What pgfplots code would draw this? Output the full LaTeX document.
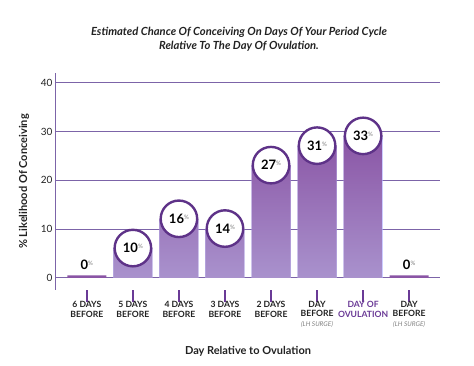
\documentclass[border=0pt]{standalone}
\usepackage{pgfplots}
\usepackage{pgfplotstable}
\pgfplotsset{compat=1.18}
\usepackage{fontspec}
\setmainfont{Lato}
\usetikzlibrary{shadows}
\definecolor{barTop}{HTML}{8A55A5}
\definecolor{barBot}{HTML}{A992CD}
\definecolor{gridc}{HTML}{7C64A8}
\definecolor{ring}{HTML}{5E3288}
\definecolor{ovu}{HTML}{6A3A96}
\definecolor{txt}{HTML}{222222}
\pgfplotstableread{
x y
1 10
2 16
3 14
4 27
5 31
6 33
}\bardata
\begin{document}
\begin{tikzpicture}
\begin{axis}[
  name=ax,
  scale only axis,
  width=384pt, height=217pt,
  xmin=-0.67, xmax=7.67,
  ymin=-2.5, ymax=42,
  axis lines*=left,
  axis line style={-, draw=gridc, line width=1pt},
  x axis line style={draw=none},
  ytick={0,10,20,30,40},
  ymajorgrids,
  grid style={gridc, line width=0.8pt},
  y tick style={draw=none},
  yticklabel style={font=\fontsize{10}{11}\selectfont\color{txt}},
  /pgf/number format/assume math mode=true,
  xtick={0,...,7},
  xtick align=inside,
  xtick pos=bottom,
  major tick length=12pt,
  x tick style={draw=ovu, line width=1.6pt},
  xticklabel style={align=center, font=\fontsize{8.6}{9.2}\selectfont\bfseries\color{txt}, anchor=north, yshift=4pt},
  xticklabels={6 DAYS\\BEFORE, 5 DAYS\\BEFORE, 4 DAYS\\BEFORE, 3 DAYS\\BEFORE, 2 DAYS\\BEFORE,
    DAY\\BEFORE\\{\mdseries\itshape\fontsize{6.5}{8}\selectfont\color{gray}(LH SURGE)},
    {\color{ovu}DAY OF\\\color{ovu}OVULATION},
    DAY\\BEFORE\\{\mdseries\itshape\fontsize{6.5}{8}\selectfont\color{gray}(LH SURGE)}},
  ylabel={\% Likelihood Of Conceiving},
  ylabel style={font=\fontsize{11}{12}\selectfont\bfseries\color{txt}, yshift=5pt},
  xlabel={Day Relative to Ovulation},
  xlabel style={font=\fontsize{11}{12}\selectfont\bfseries\color{txt}, yshift=-12pt},
  title={\itshape Estimated Chance Of Conceiving On Days Of Your Period Cycle\\\itshape Relative To The Day Of Ovulation.},
  title style={align=center, font=\fontsize{11.2}{14}\selectfont\bfseries\color{txt}, yshift=12pt, xshift=-9pt},
  ybar, bar width=39pt,
  clip=false,
]
\addplot+[ybar, bar shift=0pt, draw=none, top color=barTop, bottom color=barBot,
  point meta=explicit,
  nodes near coords={\fontsize{13}{13}\selectfont\bfseries\pgfmathprintnumber{\pgfplotspointmeta}\raisebox{0.6ex}{\fontsize{6}{6}\selectfont\mdseries\color{gray}\%}},
  every node near coord/.style={circle, fill=white, draw=ring, line width=2.4pt, minimum size=36.5pt, inner sep=0pt, anchor=center, drop shadow={opacity=0.25, shadow xshift=0pt, shadow yshift=-1.2pt}, text=black}]
  table[x=x, y expr=\thisrow{y}-3.9, meta=y] {\bardata};
\addplot+[ybar, bar shift=0pt, draw=none, fill=barTop,
  point meta=explicit symbolic,
  nodes near coords={\fontsize{13}{13}\selectfont\bfseries 0\raisebox{0.6ex}{\fontsize{6}{6}\selectfont\mdseries\color{gray}\%}},
  every node near coord/.style={anchor=south, yshift=2pt, text=black}]
  coordinates {(0,0.5) [0] (7,0.5) [0]};
\end{axis}
\path (ax.south west) ++(-56pt,-76pt) coordinate (bl);
\path (ax.north east) ++(34pt,73pt) coordinate (tr);
\path (bl) rectangle (tr);
\end{tikzpicture}
\end{document}
